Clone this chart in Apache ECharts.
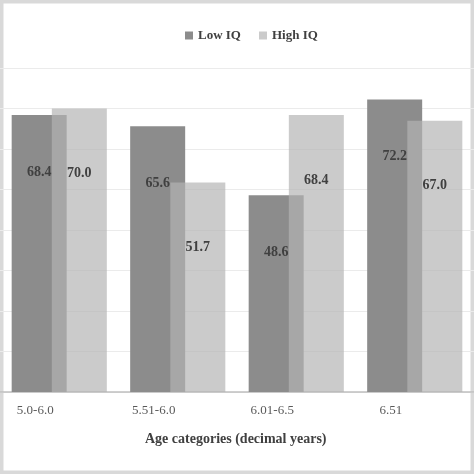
<!DOCTYPE html>
<html><head><meta charset="utf-8">
<script src="https://cdn.jsdelivr.net/npm/echarts@6/dist/echarts.min.js"></script>
<style>html,body{margin:0;padding:0;background:#fff}#c{width:474px;height:474px}</style>
</head><body><div id="c"></div>
<script>
const categories = ['5.0-6.0', '5.51-6.0', '6.01-6.5', '6.51'];
const lowIQ = [68.4, 65.6, 48.6, 72.2];
const highIQ = [70.0, 51.7, 68.4, 67.0];
const F = '"Liberation Serif", "Times New Roman", serif';
const chart = echarts.init(document.getElementById('c'));
const lbl = (d) => ({ show: true, position: 'insideTop', distance: d, fontFamily: F, fontSize: 14, fontWeight: 'bold', color: '#404040', formatter: p => p.value.toFixed(1) });
chart.setOption({
  animation: false,
  backgroundColor: '#fff',
  legend: {
    top: 24, left: 180, itemWidth: 8, itemHeight: 8, itemGap: 18,
    textStyle: { fontFamily: F, fontSize: 13, fontWeight: 'bold', color: '#404040' },
    data: [{ name: 'Low IQ', icon: 'rect' }, { name: 'High IQ', icon: 'rect' }]
  },
  grid: { left: -7, width: 550, top: 68, bottom: 82, containLabel: false },
  xAxis: {
    type: 'category', data: categories,
    axisLine: { lineStyle: { color: '#bfbfbf', width: 1.5 } },
    axisTick: { show: false },
    axisLabel: { fontFamily: F, fontSize: 13, color: '#595959', margin: 12, padding: [0, 48, 0, 0] }
  },
  yAxis: {
    type: 'value', min: 0, max: 80, interval: 10,
    axisLabel: { show: false }, axisLine: { show: false }, axisTick: { show: false },
    splitLine: { lineStyle: { color: '#ebebeb' } }
  },
  series: [
    { name: 'Low IQ', type: 'bar', data: lowIQ, barWidth: 55, barGap: '-27%',
      itemStyle: { color: '#8c8c8c' }, label: lbl(50) },
    { name: 'High IQ', type: 'bar', data: highIQ, barWidth: 55, z: 3,
      itemStyle: { color: 'rgba(180,180,180,0.69)' }, label: lbl(58) }
  ],
  graphic: [
    { type: 'text', left: 145, top: 432,
      style: { text: 'Age categories (decimal years)', fontFamily: F, fontSize: 14, fontWeight: 'bold', fill: '#404040' } },
    { type: 'rect', shape: { x: 1.5, y: 1.5, width: 471, height: 471 }, silent: true,
      style: { fill: 'none', stroke: '#d9d9d9', lineWidth: 4 } }
  ]
});
</script></body></html>
